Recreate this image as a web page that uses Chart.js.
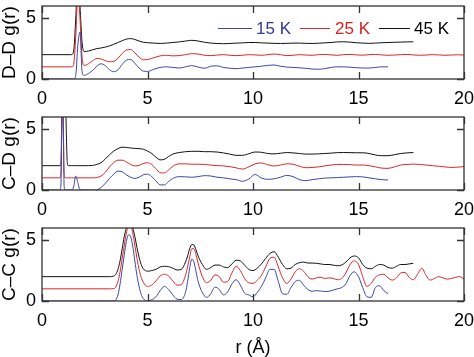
<!DOCTYPE html>
<html><head><meta charset="utf-8">
<script src="https://cdn.jsdelivr.net/npm/chart.js@4/dist/chart.umd.min.js"></script>
<style>
html,body{margin:0;padding:0;background:#fff;}
#wrap{position:relative;width:474px;height:357px;overflow:hidden;background:#fff;}
.p{position:absolute;left:0;width:474px;}
</style></head><body>
<div id="wrap">
<div class="p" style="top:0;height:112px"><canvas id="c1"></canvas></div>
<div class="p" style="top:110px;height:112px"><canvas id="c2"></canvas></div>
<div class="p" style="top:220px;height:137px"><canvas id="c3"></canvas></div>
</div>
<script>
// ---------- DATA ----------
const seriesNames = ['15 K', '25 K', '45 K'];
const seriesOffsets = [0, 1, 2];           // vertical offsets of the curves
const panelTitles = ['D–D g(r)', 'C–D g(r)', 'C–C g(r)'];
const xTicks = [0, 5, 10, 15, 20];
const yTicks = [0, 5];

// D–D panel
const rDD = [0, 1.4, 1.5, 1.6, 1.7, 1.8, 1.9, 2.0,
  2.2, 2.4, 2.6, 2.8, 3.0, 3.2, 3.4, 3.6, 3.8, 4.0, 4.2, 4.4, 4.6, 4.8, 5.0,
  5.3, 5.6, 5.9, 6.2, 6.5, 6.8, 7.1, 7.4, 7.7, 8.0, 8.3, 8.6, 8.9, 9.2, 9.5, 9.8,
  10.1, 10.4, 10.7, 11.0, 11.3, 11.6, 11.9, 12.2, 12.5, 12.8, 13.1, 13.4, 13.7, 14.0, 14.3, 14.6, 14.9,
  15.2, 15.5, 15.8, 16.1, 16.4, 16.7, 17.0, 17.3, 17.6, 17.9, 18.2, 18.5, 18.8, 19.1, 19.4, 19.7, 20.0];
const gDD15 = [0, 0, 0, 0.3, 2.8, 3.85, 0.6, 0.3,
  0.45, 0.7, 1.05, 1.25, 1.1, 0.75, 0.6, 0.75, 1.2, 1.55, 1.6, 1.3, 0.9, 0.65, 0.62,
  0.8, 0.95, 1.0, 0.95, 0.9, 1.0, 1.1, 0.98, 0.88, 1.05, 1.08, 0.95, 0.88, 0.85, 0.9, 0.95,
  1.0, 1.05, 1.12, 1.15, 1.05, 0.98, 0.95, 0.92, 0.88, 0.82, 0.8, 0.85, 0.95, 1.0, 1.0, 0.97, 0.93,
  0.9, 0.9, 0.95, 1.0, 1.0];
const gDD25 = [0, 0, 0.2, 2.5, 6, 4, 0.8, 0.12,
  0.25, 0.5, 0.68, 0.65, 0.5, 0.42, 0.45, 0.7, 1.1, 1.38, 1.42, 1.15, 0.8, 0.58, 0.6,
  0.75, 0.9, 0.95, 0.9, 0.92, 1.0, 1.08, 1.05, 0.95, 0.92, 0.97, 1.0, 0.95, 0.92, 0.95, 1.0,
  0.98, 0.95, 1.0, 1.05, 1.0, 0.92, 0.95, 1.0, 0.97, 0.95, 1.0, 1.02, 0.98, 0.95, 1.0, 1.02, 0.98,
  0.96, 1.0, 1.02, 0.98, 0.95, 0.97, 1.0, 1.02, 0.98, 0.95, 0.97, 1.0, 0.98, 0.95, 0.97, 0.99, 0.97];
const gDD45 = [0, 0, 0.3, 3, 6.5, 4, 1.0, 0.25,
  0.3, 0.4, 0.5, 0.55, 0.62, 0.72, 0.85, 1.0, 1.15, 1.28, 1.32, 1.25, 1.12, 1.02, 0.98,
  0.95, 0.92, 0.95, 1.0, 1.05, 1.12, 1.18, 1.12, 1.02, 0.95, 0.92, 0.9, 0.92, 0.95, 0.97, 1.0,
  1.0, 0.97, 0.95, 0.93, 0.92, 0.93, 0.95, 0.95, 0.93, 0.92, 0.94, 0.97, 1.0, 1.05, 1.06, 1.03, 0.98,
  0.95, 0.93, 0.95, 0.98, 1.0, 1.02, 1.03, 1.05, 1.06];

// C–D panel
const rCD = [0, 0.85, 0.9, 0.95, 1.0, 1.05, 1.1, 1.15, 1.2, 1.25, 1.4, 1.5, 1.6, 1.7, 1.8,
  2.0, 2.2, 2.4, 2.6, 2.8, 3.0, 3.2, 3.4, 3.6, 3.8, 4.0, 4.2, 4.4, 4.6, 4.8, 5.0, 5.2, 5.4, 5.6, 5.8, 6.0, 6.2,
  6.5, 6.8, 7.1, 7.4, 7.7, 8.0, 8.3, 8.6, 8.9, 9.2, 9.5, 9.8,
  10.1, 10.4, 10.7, 11.0, 11.3, 11.6, 11.9, 12.2, 12.5, 12.8, 13.1, 13.4, 13.7, 14.0, 14.3, 14.6, 14.9,
  15.2, 15.5, 15.8, 16.1, 16.4, 16.7, 17.0, 17.3, 17.6, 17.9, 18.2, 18.5, 18.8, 19.1, 19.4, 19.7, 20.0];
const gCD15 = [0, 0, 0.5, 7, 6, 0.3, 0, 0, 0, 0, 0, 0.25, 1.15, 0.6, 0.02,
  0, 0, 0, 0.02, 0.2, 0.55, 0.95, 1.3, 1.55, 1.5, 1.25, 1.05, 0.95, 1.05, 1.25, 1.3, 1.1, 0.75, 0.42, 0.42, 0.7, 0.95,
  1.1, 1.08, 1.05, 1.1, 1.18, 1.15, 1.05, 1.0, 0.92, 0.85, 0.72, 0.9,
  1.28, 0.98, 0.88, 0.92, 1.05, 1.2, 1.1, 0.85, 0.77, 0.85, 0.92, 0.98, 1.0, 1.02, 1.05, 1.08, 1.1,
  1.08, 1.0, 0.92, 0.85, 0.82];
const gCD25 = [0, 0, 0.5, 7, 6, 0.3, 0, 0, 0, 0, 0, 0, 0, 0, 0,
  0, 0, 0, 0.03, 0.15, 0.45, 0.9, 1.25, 1.45, 1.45, 1.3, 1.1, 0.98, 1.02, 1.18, 1.24, 1.1, 0.75, 0.42, 0.4, 0.65, 0.95,
  1.15, 1.15, 1.12, 1.12, 1.1, 1.05, 1.0, 0.98, 0.92, 0.82, 0.72, 0.9,
  1.15, 1.22, 1.08, 0.97, 1.05, 1.15, 1.12, 0.95, 0.83, 0.85, 0.9, 0.98, 1.05, 1.1, 1.1, 1.08, 1.05,
  1.05, 1.0, 0.9, 0.8, 0.78, 0.9, 1.05, 1.1, 1.13, 1.1, 1.05, 1.0, 0.95, 0.9, 0.85, 0.88, 0.92];
const gCD45 = [0, 0, 0.2, 4, 8, 9, 7, 3, 0.2, 0, 0, 0, 0, 0, 0,
  0, 0, 0.02, 0.1, 0.25, 0.55, 0.9, 1.2, 1.4, 1.52, 1.5, 1.45, 1.42, 1.4, 1.35, 1.2, 1.0, 0.7, 0.48, 0.52, 0.75, 0.95,
  1.08, 1.15, 1.18, 1.18, 1.15, 1.15, 1.12, 1.05, 0.95, 0.85, 0.85, 0.98,
  1.12, 1.1, 1.0, 0.97, 1.02, 1.08, 1.05, 1.0, 0.95, 0.95, 0.97, 1.0, 1.03, 1.07, 1.08, 1.07, 1.06,
  1.06, 1.0, 0.88, 0.82, 0.82, 0.9, 1.0, 1.05, 1.08];

// C–C panel
const rCC = [0, 3.2, 3.4,
  3.5, 3.6, 3.7, 3.8, 3.9, 4.0, 4.1, 4.2, 4.3, 4.4, 4.5, 4.6, 4.7, 4.8, 4.9, 5.0,
  5.2, 5.4, 5.6, 5.8, 6.0, 6.2, 6.4, 6.6, 6.8,
  6.9, 7.0, 7.1, 7.2, 7.3, 7.4,
  7.6, 7.8, 8.0, 8.2, 8.4, 8.6, 8.8, 9.0, 9.2, 9.4, 9.6, 9.8,
  10.0, 10.2, 10.4, 10.6, 10.8, 11.0, 11.2, 11.4, 11.6, 11.8,
  12.0, 12.2, 12.4, 12.6, 12.8, 13.0, 13.2, 13.4, 13.6, 13.8,
  14.0, 14.2, 14.4, 14.6, 14.8, 15.0, 15.2, 15.4, 15.6, 15.8,
  16.0, 16.2, 16.4, 16.6, 16.8, 17.0, 17.2, 17.4, 17.6, 17.8,
  18.0, 18.2, 18.4, 18.6, 18.8, 19.0, 19.2, 19.4, 19.6, 19.8, 20.0];
const gCC15 = [0, 0, 0,
  0.1, 0.5, 1.4, 2.6, 3.8, 4.9, 5.45, 5.3, 4.5, 3.3, 2.1, 1.2, 0.55, 0.2, 0.05, 0.02,
  0.1, 0.35, 0.85, 1.2, 0.95, 0.5, 0.15, 0.12, 0.7,
  1.6, 2.7, 3.45, 3.2, 2.4, 1.6,
  0.7, 0.3, 0.6, 1.15, 0.95, 0.5, 0.75, 1.4, 1.75, 1.3, 0.65, 0.5,
  0.35, 0.7, 1.2, 1.9, 2.6, 2.6, 1.6, 0.6, 0.55, 1.1,
  1.6, 1.7, 1.3, 0.95, 0.8, 0.85, 0.82, 0.78, 0.8, 0.9,
  1.0, 1.1, 1.4, 2.1, 2.4, 2.0, 1.1, 0.35, 0.3, 1.1,
  1.25, 0.85, 0.6];
const gCC25 = [0, 0, 0.02,
  0.15, 0.6, 1.4, 2.5, 3.6, 4.6, 5.2, 5.2, 4.6, 3.6, 2.5, 1.6, 0.95, 0.55, 0.3, 0.2,
  0.3, 0.65, 1.05, 1.2, 1.05, 0.65, 0.3, 0.35, 1.1,
  1.8, 2.6, 3.3, 3.3, 2.8, 2.1,
  1.0, 0.5, 0.7, 1.15, 1.0, 0.55, 0.6, 1.3, 1.85, 1.5, 0.85, 0.5,
  0.45, 0.7, 1.1, 1.8, 2.5, 2.6, 1.8, 0.9, 0.45, 0.8,
  1.4, 1.65, 1.45, 1.0, 0.8, 0.9, 0.95, 0.85, 0.9, 0.85,
  0.75, 0.85, 1.3, 2.0, 2.3, 2.0, 1.0, 0.2, 0.45, 0.95,
  1.15, 1.2, 0.9, 0.72, 0.9, 1.3, 1.35, 0.95, 0.75, 1.2,
  1.7, 1.1, 0.72, 0.85, 1.0, 0.9, 0.8, 0.85, 0.95, 1.0, 0.8];
const gCC45 = [0, 0, 0.05,
  0.2, 0.6, 1.3, 2.3, 3.3, 4.0, 4.4, 4.4, 4.0, 3.3, 2.4, 1.6, 1.0, 0.65, 0.5, 0.45,
  0.5, 0.6, 0.8, 0.85, 0.82, 0.7, 0.55, 0.6, 1.2,
  1.7, 2.3, 2.65, 2.6, 2.2, 1.7,
  1.0, 0.6, 0.75, 0.95, 0.95, 0.8, 0.75, 1.05, 1.35, 1.3, 0.95, 0.6,
  0.5, 0.7, 1.05, 1.5, 1.9, 2.05, 1.6, 1.0, 0.65, 0.7,
  1.0, 1.15, 1.2, 1.12, 1.12, 1.1, 1.05, 1.0, 1.0, 0.95,
  0.9, 0.95, 1.2, 1.55, 1.7, 1.55, 1.0, 0.7, 0.65, 0.85,
  1.0, 0.95, 0.75, 0.7, 0.85, 1.0, 1.0, 1.05, 1.1];

// ---------- STYLE ----------
const FONT = "'Liberation Sans', Arial, Helvetica, sans-serif";
const lineColors = ['#3a47a8', '#d8262a', '#111111'];
const textColors = ['#33379a', '#d42020', '#000000'];
Chart.defaults.font.family = FONT;
Chart.defaults.color = '#000';

const framePlugin = {
  id: 'frame',
  afterDatasetsDraw(chart) {
    const {ctx, chartArea: a, scales: {x, y}} = chart;
    ctx.save();
    ctx.strokeStyle = '#333';
    ctx.lineWidth = 1.3;
    ctx.strokeRect(a.left, a.top, a.right - a.left, a.bottom - a.top);
    ctx.beginPath();
    const L = 7;
    xTicks.forEach(v => {
      const px = Math.round(x.getPixelForValue(v)) + 0.5;
      ctx.moveTo(px, a.bottom); ctx.lineTo(px, a.bottom - L);
      ctx.moveTo(px, a.top); ctx.lineTo(px, a.top + L);
    });
    yTicks.forEach(v => {
      const py = Math.round(y.getPixelForValue(v)) + 0.5;
      ctx.moveTo(a.left, py); ctx.lineTo(a.left + L, py);
      ctx.moveTo(a.right, py); ctx.lineTo(a.right - L, py);
    });
    ctx.stroke();
    ctx.restore();
  }
};

const legendPlugin = {
  id: 'inlegend',
  afterDatasetsDraw(chart) {
    const {ctx} = chart;
    const items = [[218, 252, 256], [300, 330, 335], [379, 410, 414]];
    ctx.save();
    ctx.font = '17px ' + FONT;
    ctx.textBaseline = 'middle';
    ctx.textAlign = 'left';
    items.forEach((it, i) => {
      ctx.strokeStyle = lineColors[i];
      ctx.lineWidth = 1;
      ctx.beginPath();
      ctx.moveTo(it[0], 28.5); ctx.lineTo(it[1], 28.5);
      ctx.stroke();
      ctx.fillStyle = textColors[i];
      ctx.fillText(seriesNames[i], it[2], 29);
    });
    ctx.restore();
  }
};

function build(r, gs) {
  return gs.map((g, i) => ({
    label: seriesNames[i],
    data: g.map((v, k) => ({x: r[k], y: v + seriesOffsets[i]})),
    borderColor: lineColors[i],
    borderWidth: 1,
    pointRadius: 0,
    fill: false,
    cubicInterpolationMode: 'monotone'
  }));
}

function makeChart(id, r, gs, title, padTop, xh, withXTitle, extra) {
  new Chart(document.getElementById(id), {
    type: 'line',
    data: {datasets: build(r, gs)},
    options: {
      responsive: true, maintainAspectRatio: false, animation: false,
      layout: {padding: {top: padTop, right: 10, left: 0, bottom: 0}},
      plugins: {legend: {display: false}, tooltip: {enabled: false}},
      scales: {
        x: {
          type: 'linear', min: 0, max: 20, position: 'bottom',
          afterBuildTicks: s => { s.ticks = xTicks.map(v => ({value: v})); },
          ticks: {autoSkip: false, maxRotation: 0, padding: 9, color: '#000', font: {size: 18}},
          grid: {display: false, drawTicks: false},
          border: {display: false},
          title: {display: withXTitle, text: 'r (Å)', color: '#000', font: {size: 18, lineHeight: 1}, padding: {top: 0, bottom: 0}},
          afterFit: s => { s.height = xh; s.paddingLeft = 0; s.paddingRight = 0; }
        },
        y: {
          type: 'linear', min: 0, max: 6,
          afterBuildTicks: s => { s.ticks = yTicks.map(v => ({value: v})); },
          ticks: {padding: 6, color: '#000', font: {size: 18}},
          grid: {display: false, drawTicks: false},
          border: {display: false},
          title: {display: true, text: title, color: '#000', font: {size: 19, lineHeight: 1}, padding: 0},
          afterFit: s => { s.width = 42; s.paddingTop = 0; s.paddingBottom = 0; }
        }
      }
    },
    plugins: extra ? [framePlugin, legendPlugin] : [framePlugin]
  });
}

makeChart('c1', rDD, [gDD15, gDD25, gDD45], panelTitles[0], 6, 33, false, true);
makeChart('c2', rCD, [gCD15, gCD25, gCD45], panelTitles[1], 7, 32, false, false);
makeChart('c3', rCC, [gCC15, gCC25, gCC45], panelTitles[2], 8, 56, true, false);
</script>
</body></html>
